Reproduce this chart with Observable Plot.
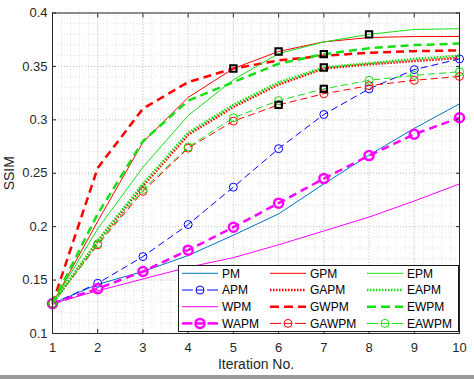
<!DOCTYPE html>
<html>
<head>
<meta charset="utf-8">
<script src="https://cdn.jsdelivr.net/npm/d3@7"></script>
<script src="https://cdn.jsdelivr.net/npm/@observablehq/plot@0.6"></script>
<style>
  html, body { margin: 0; padding: 0; background: #fff; }
  #wrap { position: relative; width: 474px; height: 379px; overflow: hidden; background: #fff; }
  #strip { position: absolute; left: 0; top: 375px; width: 474px; height: 4px; background: #9a9a9a; }
</style>
</head>
<body>
<div id="wrap"><div id="chart"></div><div id="strip"></div></div>
<script>
// ---------------- data ----------------
const iterations = [1, 2, 3, 4, 5, 6, 7, 8, 9, 10];

const PM    = [0.128, 0.146, 0.158, 0.173, 0.192, 0.212, 0.240, 0.267, 0.292, 0.315];
const APM   = [0.128, 0.147, 0.172, 0.202, 0.237, 0.273, 0.305, 0.329, 0.347, 0.357];
const WPM   = [0.128, 0.140, 0.151, 0.162, 0.171, 0.183, 0.196, 0.209, 0.224, 0.240];
const WAPM  = [0.128, 0.142, 0.158, 0.178, 0.1995, 0.222, 0.245, 0.2665, 0.2865, 0.302];
const GPM   = [0.128, 0.205, 0.279, 0.321, 0.348, 0.364, 0.373, 0.377, 0.378, 0.378];
const GAPM  = [0.128, 0.186, 0.238, 0.286, 0.312, 0.333, 0.348, 0.352, 0.355, 0.358];
const GWPM  = [0.128, 0.255, 0.3105, 0.3353, 0.348, 0.3556, 0.360, 0.3628, 0.3643, 0.365];
const GAWPM = [0.128, 0.183, 0.233, 0.2735, 0.2988, 0.314, 0.3244, 0.332, 0.337, 0.3406];
const EPM   = [0.128, 0.198, 0.2557, 0.304, 0.3375, 0.362, 0.3729, 0.380, 0.3846, 0.3853];
const EAPM  = [0.128, 0.187, 0.240, 0.288, 0.314, 0.335, 0.349, 0.353, 0.357, 0.360];
const EWPM  = [0.128, 0.212, 0.280, 0.318, 0.3353, 0.3525, 0.3615, 0.367, 0.370, 0.3714];
const EAWPM = [0.128, 0.184, 0.2348, 0.2745, 0.302, 0.318, 0.329, 0.337, 0.3416, 0.345];

const seriesNames = ["PM", "APM", "WPM", "WAPM", "GPM", "GAPM", "GWPM", "GAWPM", "EPM", "EAPM", "EWPM", "EAWPM"];
const seriesValues = [PM, APM, WPM, WAPM, GPM, GAPM, GWPM, GAWPM, EPM, EAPM, EWPM, EAWPM];

// black square markers (series, iteration)
const bestSeries = ["GWPM", "GPM", "GAWPM", "EWPM", "EAPM", "EAWPM", "EPM"];
const bestIteration = [5, 6, 6, 7, 7, 7, 8];

const yTickValues = [0.1, 0.15, 0.2, 0.25, 0.3, 0.35, 0.4];
const yTickLabels = ["0.1", "0.15", "0.2", "0.25", "0.3", "0.35", "0.4"];
const xTickLabels = ["1", "2", "3", "4", "5", "6", "7", "8", "9", "10"];

// ---------------- styles ----------------
const RED = "#ff0000", GREEN = "#14e014", BLUE = "#0000ff", MAG = "#ff00ff", PMBLUE = "#0072bd";
const styles = {
  PM:    {color: PMBLUE, width: 1,   dash: null},
  APM:   {color: BLUE,   width: 1,   dash: "7,4",   marker: 4},
  WPM:   {color: MAG,    width: 1,   dash: null},
  WAPM:  {color: MAG,    width: 2.5, dash: "8,5",   marker: 4.5},
  GPM:   {color: RED,    width: 1,   dash: null},
  GAPM:  {color: RED,    width: 2.5, dash: "1.5,1.5"},
  GWPM:  {color: RED,    width: 2.5, dash: "8,5"},
  GAWPM: {color: RED,    width: 1,   dash: "7,4",   marker: 4},
  EPM:   {color: GREEN,  width: 1,   dash: null},
  EAPM:  {color: GREEN,  width: 2.5, dash: "1.5,1.5"},
  EWPM:  {color: GREEN,  width: 2.5, dash: "8,5"},
  EAWPM: {color: GREEN,  width: 1,   dash: "7,4",   marker: 4}
};

// ---------------- build ----------------
const rows = [];
seriesNames.forEach((name, si) => {
  seriesValues[si].forEach((v, i) => rows.push({series: name, x: iterations[i], y: v}));
});
const bestRows = bestSeries.map((s, i) => ({
  x: bestIteration[i],
  y: seriesValues[seriesNames.indexOf(s)][iterations.indexOf(bestIteration[i])]
}));

const W = 474, H = 375;
const FONT = "'Liberation Sans', Arial, Helvetica, sans-serif";
const AXIS = "#262626";

const seriesMarks = [];
seriesNames.forEach(name => {
  const st = styles[name];
  const data = rows.filter(r => r.series === name);
  seriesMarks.push(Plot.line(data, {
    x: "x", y: "y", stroke: st.color, strokeWidth: st.width,
    strokeDasharray: st.dash || undefined, strokeLinecap: "butt", strokeLinejoin: "round"
  }));
  if (st.marker) {
    seriesMarks.push(Plot.dot(data, {
      x: "x", y: "y", r: st.marker, stroke: st.color, strokeWidth: st.width, fill: "none"
    }));
  }
});

// legend drawn as a render-function mark
function legendMark(index, scales, values, dim) {
  const boxW = 280, boxH = 66;
  const right = dim.width - dim.marginRight - 1;
  const bottom = dim.height - dim.marginBottom - 2;
  const left = right - boxW, top = bottom - boxH;
  const g = d3.create("svg:g").attr("font-family", FONT).attr("font-size", 12).attr("text-anchor", "start");
  g.append("rect").attr("x", left + 0.5).attr("y", top + 0.5).attr("width", boxW).attr("height", boxH)
    .attr("fill", "white").attr("stroke", "#1a1a1a").attr("stroke-width", 1);
  const colX = [4, 92, 189];
  const lineLen = 36;
  const rowY0 = 8.3, rowStep = 16.7;
  seriesNames.forEach((name, i) => {
    const col = Math.floor(i / 4), row = i % 4;
    const st = styles[name];
    const x0 = left + colX[col], y = top + rowY0 + row * rowStep;
    if (st.marker) {
      const mid = x0 + lineLen / 2;
      g.append("line").attr("x1", x0).attr("x2", mid - st.marker - 3).attr("y1", y).attr("y2", y)
        .attr("stroke", st.color).attr("stroke-width", st.width);
      g.append("line").attr("x1", mid + st.marker + 3).attr("x2", x0 + lineLen).attr("y1", y).attr("y2", y)
        .attr("stroke", st.color).attr("stroke-width", st.width);
      g.append("line").attr("x1", mid - st.marker).attr("x2", mid + st.marker).attr("y1", y).attr("y2", y)
        .attr("stroke", st.color).attr("stroke-width", st.width);
      g.append("circle").attr("cx", mid).attr("cy", y).attr("r", st.marker)
        .attr("fill", "none").attr("stroke", st.color).attr("stroke-width", st.width);
    } else {
      g.append("line").attr("x1", x0).attr("x2", x0 + lineLen).attr("y1", y).attr("y2", y)
        .attr("stroke", st.color).attr("stroke-width", st.width)
        .attr("stroke-dasharray", st.dash === "8,5" ? "9,5" : st.dash);
    }
    g.append("text").attr("x", x0 + lineLen + 4).attr("y", y).attr("dy", "0.35em")
      .attr("text-anchor", "start").attr("fill", "#000").text(name);
  });
  return g.node();
}

const gridMinor = {stroke: "#c4c4c4", strokeOpacity: 0.75, strokeWidth: 0.7, strokeDasharray: "1,2"};
const gridMajor = {stroke: "#b0b0b0", strokeOpacity: 0.8, strokeWidth: 0.8, strokeDasharray: "1,2"};

const chart = Plot.plot({
  width: W, height: H,
  marginLeft: 52, marginRight: 15, marginTop: 12.5, marginBottom: 42,
  style: {fontFamily: FONT, fontSize: "13px", color: AXIS, background: "white", overflow: "visible"},
  x: {domain: [1, 10], axis: null},
  y: {domain: [0.1, 0.4], axis: null},
  marks: [
    Plot.gridX(d3.range(1, 10.001, 0.2), gridMinor),
    Plot.gridY(d3.range(0.1, 0.4001, 0.01), gridMinor),
    Plot.gridX(iterations, gridMajor),
    Plot.gridY(yTickValues, gridMajor),
    ...seriesMarks,
    Plot.dot(bestRows, {x: "x", y: "y", symbol: "square", r: 3.6, stroke: "#000", strokeWidth: 2, fill: "none"}),
    // axes (inward ticks)
    Plot.axisX(iterations, {anchor: "bottom", tickSize: 4, dy: -4, text: null, stroke: AXIS, label: null}),
    Plot.axisX(iterations, {anchor: "top", tickSize: 4, dy: 4, text: null, stroke: AXIS, label: null}),
    Plot.axisY(yTickValues, {anchor: "left", tickSize: 4, dx: 4, text: null, stroke: AXIS, label: null}),
    Plot.axisY(yTickValues, {anchor: "right", tickSize: 4, dx: -4, text: null, stroke: AXIS, label: null}),
    Plot.axisX(iterations, {anchor: "bottom", tickSize: 0, tickPadding: 9, fontSize: 13, fill: AXIS,
      tickFormat: d => xTickLabels[iterations.indexOf(d)], label: null}),
    Plot.axisY(yTickValues, {anchor: "left", tickSize: 0, tickPadding: 5, fontSize: 13, fill: AXIS,
      tickFormat: d => yTickLabels[yTickValues.indexOf(d)], label: null}),
    Plot.frame({stroke: AXIS, strokeWidth: 1}),
    Plot.text(["Iteration No."], {frameAnchor: "bottom", lineAnchor: "middle", textAnchor: "middle", dy: 31.5, fontSize: 14, fill: AXIS}),
    Plot.text(["SSIM"], {frameAnchor: "left", lineAnchor: "middle", textAnchor: "middle", dx: -43, rotate: -90, fontSize: 14, fill: AXIS}),
    legendMark
  ]
});
document.getElementById("chart").appendChild(chart);
</script>
</body>
</html>
